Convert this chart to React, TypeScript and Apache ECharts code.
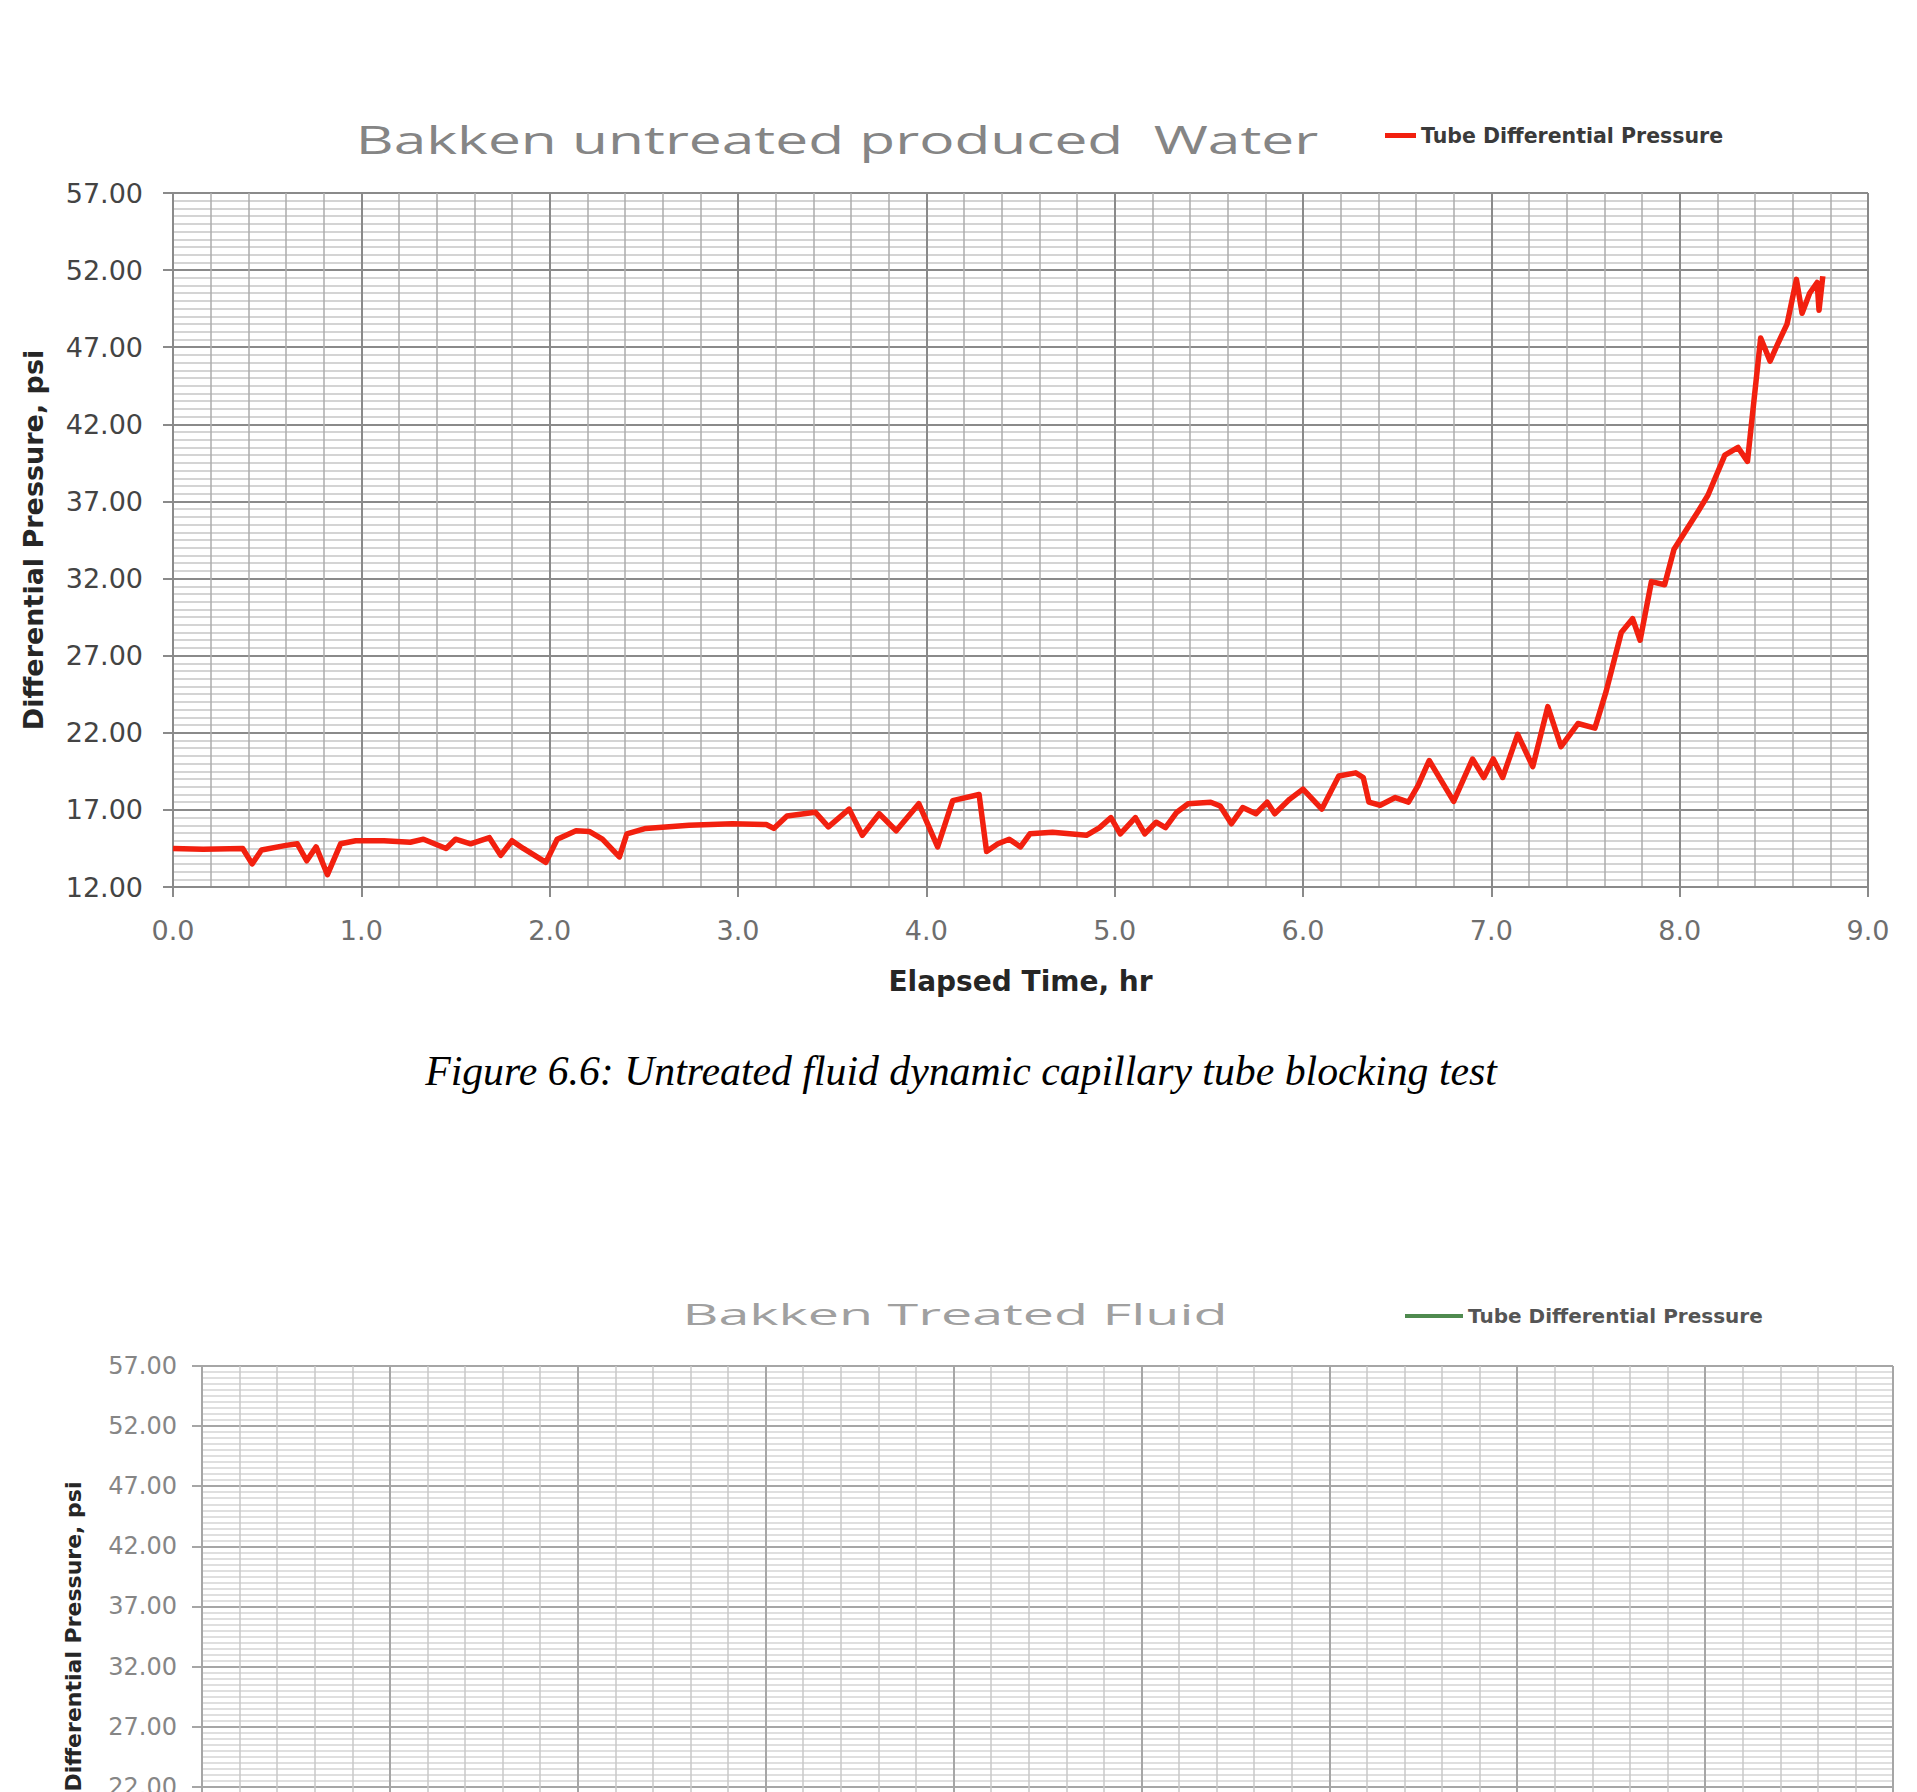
import React, { useEffect, useRef } from "react";
import * as echarts from "echarts";

// Tube differential pressure of the untreated produced water run
const elapsedHours = [
  0.0, 0.16, 0.37, 0.42, 0.47, 0.6, 0.66, 0.71, 0.76, 0.82, 0.89, 0.97, 1.12, 1.26, 1.33, 1.45,
  1.5, 1.58, 1.68, 1.74, 1.8, 1.86, 1.98, 2.04, 2.14, 2.21, 2.28, 2.37, 2.41, 2.51, 2.74, 2.97,
  3.15, 3.19, 3.26, 3.41, 3.48, 3.59, 3.66, 3.75, 3.84, 3.96, 4.06, 4.14, 4.28, 4.32, 4.38, 4.44,
  4.5, 4.55, 4.67, 4.85, 4.92, 4.98, 5.03, 5.11, 5.16, 5.22, 5.27, 5.33, 5.39, 5.51, 5.56, 5.62,
  5.68, 5.75, 5.81, 5.85, 5.93, 6.0, 6.1, 6.19, 6.28, 6.32, 6.35, 6.41, 6.49, 6.56, 6.61, 6.67,
  6.8, 6.9, 6.96, 7.01, 7.06, 7.14, 7.22, 7.3, 7.37, 7.46, 7.55, 7.61, 7.69, 7.75, 7.79, 7.85,
  7.92, 7.97, 8.1, 8.15, 8.24, 8.31, 8.36, 8.43, 8.48, 8.52, 8.57, 8.62, 8.65, 8.69, 8.73, 8.74,
  8.76,
];
const untreatedPsi = [
  14.5, 14.45, 14.5, 13.5, 14.4, 14.7, 14.8, 13.7, 14.6, 12.8, 14.8, 15.0, 15.0, 14.9, 15.1, 14.5,
  15.1, 14.8, 15.2, 14.05, 15.0, 14.5, 13.6, 15.1, 15.65, 15.6, 15.1, 13.95, 15.45, 15.8, 16.0, 16.1,
  16.05, 15.8, 16.6, 16.85, 15.9, 17.05, 15.35, 16.75, 15.65, 17.4, 14.6, 17.6, 18.0, 14.3, 14.8, 15.1,
  14.6, 15.45, 15.55, 15.35, 15.85, 16.5, 15.45, 16.5, 15.45, 16.2, 15.85, 16.85, 17.4, 17.5, 17.25, 16.1,
  17.15, 16.75, 17.5, 16.75, 17.7, 18.35, 17.05, 19.2, 19.4, 19.1, 17.5, 17.3, 17.8, 17.5, 18.55, 20.2,
  17.55, 20.3, 19.1, 20.3, 19.1, 21.9, 19.8, 23.7, 21.1, 22.6, 22.3, 24.7, 28.5, 29.4, 28.0, 31.8,
  31.6, 33.9, 36.4, 37.4, 40.0, 40.5, 39.6, 47.6, 46.1, 47.2, 48.5, 51.4, 49.2, 50.5, 51.2, 49.4,
  51.6,
];

// Treated fluid run: its trace falls below the visible part of the page
const treatedHours: number[] = [];
const treatedPsi: number[] = [];

// Axis ranges, steps and the pressure ticks labelled on the treated chart
const timeRange = [0, 9];
const timeStep = 1;
const psiRange = [12, 57];
const psiStep = 5;
const treatedPsiTicks = [22, 27, 32, 37, 42, 47, 52, 57];

const untreatedTitle = "Bakken untreated produced  Water";
const treatedTitle = "Bakken Treated Fluid";
const seriesName = "Tube Differential Pressure";
const timeName = "Elapsed Time, hr";
const psiName = "Differential Pressure, psi";
const caption = "Figure 6.6: Untreated fluid dynamic capillary tube blocking test";

const SANS = "DejaVu Sans";

function measureWidth(text: string, font: string): number {
  const ctx = document.createElement("canvas").getContext("2d");
  if (!ctx) return 1;
  ctx.font = font;
  return ctx.measureText(text).width || 1;
}

type Look = {
  major: string;
  minorX: string;
  minorY: string;
  yLabelSize: number;
  yLabelColor: string;
  yLabelMargin: number;
  yNameSize: number;
  yNameGap: number;
  showTime: boolean;
  psiLabelValues?: number[];
};

function buildAxes(look: Look) {
  const xAxis: any = {
    type: "value",
    min: timeRange[0],
    max: timeRange[1],
    interval: timeStep,
    axisLine: { show: true, onZero: false, lineStyle: { color: look.major, width: 2 } },
    axisTick: { show: true, length: 10, lineStyle: { color: look.major, width: 2 } },
    axisLabel: {
      show: look.showTime,
      margin: 30,
      formatter: (v: number) => v.toFixed(1),
      fontFamily: SANS,
      fontSize: 27,
      color: "#6e6e6e",
    },
    splitLine: { show: true, lineStyle: { color: look.major, width: 2 } },
    minorTick: { show: false, splitNumber: 5 },
    minorSplitLine: { show: true, lineStyle: { color: look.minorX, width: 1.5 } },
  };
  if (look.showTime) {
    xAxis.name = timeName;
    xAxis.nameLocation = "middle";
    xAxis.nameGap = 80;
    xAxis.nameTextStyle = { fontFamily: SANS, fontSize: 28, fontWeight: "bold", color: "#262626" };
  }
  const yLabel: any = {
    margin: look.yLabelMargin,
    formatter: (v: number) => v.toFixed(2),
    fontFamily: SANS,
    fontSize: look.yLabelSize,
    color: look.yLabelColor,
  };
  if (look.psiLabelValues) yLabel.customValues = look.psiLabelValues;
  const yAxis = {
    type: "value",
    min: psiRange[0],
    max: psiRange[1],
    interval: psiStep,
    name: psiName,
    nameLocation: "middle",
    nameGap: look.yNameGap,
    nameTextStyle: { fontFamily: SANS, fontSize: look.yNameSize, fontWeight: "bold", color: "#262626" },
    axisLine: { show: true, lineStyle: { color: look.major, width: 2 } },
    axisTick: { show: true, length: 10, lineStyle: { color: look.major, width: 2 } },
    axisLabel: yLabel,
    splitLine: { show: true, lineStyle: { color: look.major, width: 2 } },
    minorTick: { show: false, splitNumber: 10 },
    minorSplitLine: { show: true, lineStyle: { color: look.minorY, width: 1.5 } },
  };
  return { xAxis, yAxis };
}

function titleGraphic(text: string, cx: number, cy: number, size: number, width: number, color: string) {
  const font = `normal ${size}px "Open Sans"`;
  const scale = width / measureWidth(text, font);
  return {
    type: "text",
    x: cx,
    y: cy,
    scaleX: scale,
    style: {
      text,
      fontFamily: "Open Sans",
      fontSize: size,
      fontWeight: "normal",
      fill: color,
      align: "center",
      verticalAlign: "middle",
      textAlign: "center",
      textVerticalAlign: "middle",
    },
  };
}

function buildUntreatedOption() {
  const { xAxis, yAxis } = buildAxes({
    major: "#8a8a8a",
    minorX: "#adadad",
    minorY: "#c6c6c6",
    yLabelSize: 27,
    yLabelColor: "#444444",
    yLabelMargin: 30,
    yNameSize: 27,
    yNameGap: 126,
    showTime: true,
  });
  return {
    animation: false,
    backgroundColor: "#ffffff",
    grid: { left: 173, right: 49, top: 193, height: 704 },
    legend: {
      data: [seriesName],
      left: 1380,
      top: 120,
      icon: "rect",
      itemWidth: 31,
      itemHeight: 5,
      textStyle: { fontFamily: SANS, fontSize: 20.5, fontWeight: "bold", color: "#3a3a3a" },
    },
    graphic: [titleGraphic(untreatedTitle, 837, 139, 38, 963, "#858585")],
    xAxis,
    yAxis,
    series: [
      {
        name: seriesName,
        type: "line",
        data: elapsedHours.map((h, i) => [h, untreatedPsi[i]]),
        symbol: "none",
        showSymbol: false,
        lineStyle: { color: "#f2200f", width: 5.5, join: "round" },
        itemStyle: { color: "#f2200f" },
        z: 5,
      },
    ],
  };
}

function buildTreatedOption() {
  const { xAxis, yAxis } = buildAxes({
    major: "#a6a6a6",
    minorX: "#c8c8c8",
    minorY: "#d4d4d4",
    yLabelSize: 24,
    yLabelColor: "#868686",
    yLabelMargin: 25,
    yNameSize: 22,
    yNameGap: 118,
    showTime: false,
    psiLabelValues: treatedPsiTicks,
  });
  const capFont = `italic 40px "Liberation Serif"`;
  const capSize = (40 * 1072) / measureWidth(caption, capFont);
  return {
    animation: false,
    backgroundColor: "#ffffff",
    grid: { left: 202, right: 24, top: 366, height: 541 },
    legend: {
      data: [seriesName],
      left: 1400,
      top: 301,
      icon: "rect",
      itemWidth: 58,
      itemHeight: 4,
      textStyle: { fontFamily: SANS, fontSize: 20, fontWeight: "bold", color: "#555555" },
    },
    graphic: [
      titleGraphic(treatedTitle, 955, 314, 29, 545, "#a0a0a0"),
      {
        type: "text",
        x: 961,
        y: 71,
        style: {
          text: caption,
          fontFamily: "Liberation Serif",
          fontStyle: "italic",
          fontSize: capSize,
          fill: "#000000",
          align: "center",
          verticalAlign: "middle",
          textAlign: "center",
          textVerticalAlign: "middle",
        },
      },
    ],
    xAxis,
    yAxis,
    series: [
      {
        name: seriesName,
        type: "line",
        data: treatedHours.map((h, i) => [h, treatedPsi[i]]),
        symbol: "none",
        showSymbol: false,
        lineStyle: { color: "#4f8a4f", width: 4 },
        itemStyle: { color: "#4f8a4f" },
        z: 5,
      },
    ],
  };
}

export default function App() {
  const topRef = useRef<HTMLDivElement>(null);
  const bottomRef = useRef<HTMLDivElement>(null);

  useEffect(() => {
    const top = echarts.init(topRef.current as HTMLDivElement, null, { renderer: "svg" });
    const bottom = echarts.init(bottomRef.current as HTMLDivElement, null, { renderer: "svg" });
    top.setOption(buildUntreatedOption() as any);
    bottom.setOption(buildTreatedOption() as any);
    return () => {
      top.dispose();
      bottom.dispose();
    };
  }, []);

  return (
    <div
      style={{
        position: "fixed",
        left: 0,
        top: 0,
        width: 1917,
        height: 1792,
        overflow: "hidden",
        background: "#ffffff",
      }}
    >
      <div
        ref={topRef}
        style={{ position: "absolute", left: 0, top: 0, width: 1917, height: 1000, overflow: "hidden" }}
      />
      <div
        ref={bottomRef}
        style={{ position: "absolute", left: 0, top: 1000, width: 1917, height: 1050 }}
      />
    </div>
  );
}
